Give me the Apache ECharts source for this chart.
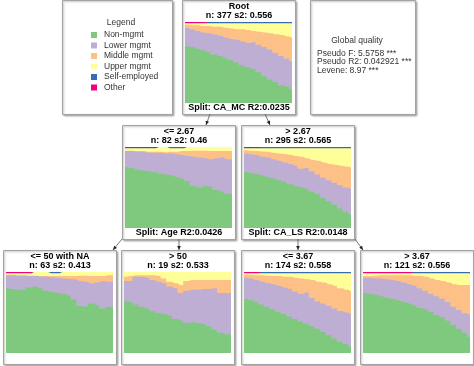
<!DOCTYPE html>
<html><head><meta charset="utf-8">
<script src="https://cdn.jsdelivr.net/npm/echarts@6/dist/echarts.min.js"></script>
<style>html,body{margin:0;padding:0;background:#fff}#c{width:474px;height:366px}</style>
</head><body><div id="c"></div>
<script>
// ---- data ----
const states = ['Non-mgmt','Lower mgmt','Middle mgmt','Upper mgmt','Self-employed','Other'];
const stateColors = ['#7fc97f','#beaed4','#fdc086','#ffff99','#386cb0','#f0027f'];
const timePoints = [1,2,3,4,5,6,7,8,9,10,11,12,13,14,15,16,17,18,19,20];

const nodeTitles = ['Root','<= 2.67','> 2.67','<= 50 with NA','> 50','<= 3.67','> 3.67'];
const nodeN = [377,82,295,63,19,174,121];
const nodeS2 = ['0.556','0.46','0.565','0.413','0.533','0.558','0.556'];
const nodeSplits = ['CA_MC R2:0.0235','Age R2:0.0426','CA_LS R2:0.0148','','','',''];

const qualityLines = ['Pseudo F: 5.5758 ***','Pseudo R2: 0.042921 ***','Levene: 8.97 ***'];

// cumulative upper boundary of each state's band (share, bottom -> top), per node
const nonTop = [
 [0.70,0.69,0.67,0.65,0.63,0.60,0.58,0.56,0.53,0.50,0.47,0.44,0.42,0.38,0.33,0.29,0.26,0.22,0.20,0.17],
 [0.75,0.74,0.72,0.71,0.70,0.69,0.67,0.66,0.65,0.63,0.61,0.58,0.52,0.50,0.52,0.51,0.47,0.45,0.42,0.43],
 [0.69,0.68,0.67,0.65,0.63,0.61,0.59,0.57,0.54,0.52,0.50,0.48,0.45,0.42,0.37,0.33,0.29,0.24,0.20,0.17],
 [0.80,0.79,0.78,0.78,0.81,0.82,0.80,0.77,0.75,0.74,0.73,0.71,0.66,0.58,0.57,0.61,0.59,0.55,0.57,0.57],
 [0.64,0.63,0.60,0.57,0.55,0.52,0.49,0.48,0.46,0.42,0.40,0.37,0.38,0.37,0.36,0.33,0.29,0.25,0.23,0.23],
 [0.67,0.65,0.63,0.60,0.57,0.54,0.51,0.48,0.45,0.42,0.39,0.36,0.33,0.30,0.26,0.22,0.18,0.14,0.11,0.08],
 [0.74,0.73,0.72,0.70,0.68,0.67,0.65,0.63,0.61,0.59,0.56,0.54,0.51,0.47,0.44,0.40,0.35,0.30,0.25,0.20]
];
const lowerTop = [
 [0.93,0.91,0.89,0.87,0.86,0.85,0.83,0.81,0.79,0.78,0.76,0.74,0.75,0.72,0.69,0.66,0.62,0.58,0.55,0.52],
 [0.95,0.95,0.94,0.94,0.93,0.93,0.93,0.92,0.92,0.91,0.90,0.89,0.88,0.87,0.86,0.85,0.86,0.87,0.85,0.85],
 [0.92,0.91,0.90,0.88,0.87,0.85,0.83,0.81,0.79,0.77,0.73,0.74,0.70,0.66,0.62,0.59,0.56,0.53,0.50,0.48],
 [0.96,0.96,0.955,0.955,0.95,0.95,0.945,0.94,0.935,0.93,0.92,0.915,0.91,0.89,0.88,0.86,0.87,0.89,0.88,0.88],
 [0.89,0.89,0.94,0.94,0.93,0.90,0.88,0.86,0.82,0.80,0.74,0.77,0.78,0.78,0.79,0.79,0.80,0.74,0.74,0.74],
 [0.93,0.92,0.90,0.88,0.86,0.85,0.83,0.81,0.79,0.76,0.73,0.75,0.68,0.64,0.61,0.58,0.55,0.52,0.50,0.48],
 [0.93,0.93,0.92,0.92,0.91,0.90,0.89,0.87,0.85,0.83,0.80,0.77,0.73,0.70,0.67,0.63,0.57,0.53,0.49,0.47]
];
const middleTop = [
 [0.97,0.96,0.96,0.95,0.95,0.94,0.94,0.93,0.92,0.91,0.91,0.90,0.89,0.88,0.87,0.86,0.85,0.84,0.82,0.81],
 [0.955,0.955,0.95,0.95,0.94,0.94,0.94,0.935,0.94,0.94,0.95,0.95,0.955,0.955,0.955,0.95,0.95,0.95,0.95,0.95],
 [0.96,0.955,0.95,0.945,0.94,0.93,0.92,0.915,0.905,0.89,0.88,0.86,0.84,0.83,0.81,0.79,0.78,0.77,0.76,0.75],
 [0.965,0.965,0.96,0.96,0.955,0.955,0.95,0.95,0.95,0.95,0.95,0.95,0.95,0.955,0.955,0.95,0.95,0.95,0.96,0.96],
 [0.94,0.95,0.96,0.96,0.96,0.96,0.95,0.92,0.88,0.86,0.84,0.89,0.90,0.90,0.90,0.90,0.90,0.90,0.90,0.90],
 [0.97,0.965,0.96,0.96,0.955,0.95,0.95,0.94,0.94,0.93,0.92,0.91,0.90,0.88,0.87,0.85,0.83,0.80,0.78,0.76],
 [0.95,0.95,0.955,0.96,0.96,0.96,0.96,0.96,0.96,0.955,0.955,0.94,0.92,0.90,0.89,0.87,0.85,0.84,0.84,0.84]
];
const upperTop = [
 [0.985,0.985,0.985,0.985,0.985,0.985,0.985,0.985,0.985,0.985,0.985,0.985,0.985,0.985,0.985,0.985,0.985,0.985,0.985,0.985],
 [0.985,0.985,0.985,0.985,0.985,0.985,1,1,0.985,0.985,0.985,1,1,1,1,1,1,1,1,1],
 [0.985,0.985,0.985,0.985,0.985,0.985,0.985,0.985,0.985,0.985,0.985,0.985,0.985,0.985,0.985,0.985,0.985,0.985,0.985,0.985],
 [0.985,0.985,0.985,0.985,0.985,1,1,1,0.985,0.985,1,1,1,1,1,1,1,1,1,1],
 [1,1,1,1,1,1,1,1,1,1,1,1,1,1,1,1,1,1,1,1],
 [0.985,0.985,0.985,0.985,0.985,0.985,0.985,0.985,0.985,0.985,0.985,0.985,0.985,0.985,0.985,0.985,0.985,0.985,0.985,0.985],
 [0.985,0.985,0.985,0.985,0.985,0.985,0.985,0.985,0.985,0.985,0.985,0.985,0.985,0.985,0.985,0.985,0.985,0.985,0.985,0.985]
];
const selfTop = [
 [0.985,0.985,0.985,0.985,1,1,1,1,1,1,1,1,1,1,1,1,1,1,1,1],
 [0.985,0.985,0.985,0.985,0.985,0.985,1,1,1,1,1,1,1,1,1,1,1,1,1,1],
 [0.985,0.985,0.985,1,1,1,1,1,1,1,1,1,1,1,1,1,1,1,1,1],
 [0.985,0.985,0.985,0.985,0.985,1,1,1,1,1,1,1,1,1,1,1,1,1,1,1],
 [1,1,1,1,1,1,1,1,1,1,1,1,1,1,1,1,1,1,1,1],
 [0.985,0.985,0.985,1,1,1,1,1,1,1,1,1,1,1,1,1,1,1,1,1],
 [0.985,0.985,0.985,0.985,0.985,0.985,0.985,0.985,0.985,1,1,1,1,1,1,1,1,1,1,1]
];
const otherTop = 1; // whole distribution sums to 1

// ---- layout ----
const boxPos = [[182,0],[122,125],[241,125],[3,250],[121,250],[241,250],[360,250]];
const BW = 113, BH = 114;
const links = [[210,114,206,125],[265,114,270,125],[122,239,113,250],[179,239,179,250],[298,239,298,250],[355,239,363,250]];
const FONT = "'Liberation Sans', Arial, sans-serif";

const grids = [], xAxes = [], yAxes = [], series = [], graphic = [];
const boxStyle = {fill:'#fff', stroke:'#a3a3a3', lineWidth:1, shadowBlur:2, shadowOffsetX:1, shadowOffsetY:1, shadowColor:'rgba(0,0,0,0.3)'};

// legend & quality boxes
graphic.push({type:'rect', z:0, shape:{x:62.5,y:0.5,width:110,height:114}, style:boxStyle});
graphic.push({type:'text', z:1, x:121, y:23, style:{text:'Legend', fill:'#333', font:'8.5px '+FONT, textAlign:'center', textVerticalAlign:'middle'}});
states.forEach((s,i)=>{
  const y = 35 + i*10.5;
  graphic.push({type:'rect', z:1, shape:{x:91,y:y-3,width:6,height:6}, style:{fill:stateColors[i]}});
  graphic.push({type:'text', z:1, x:104, y:y, style:{text:s, fill:'#333', font:'8.5px '+FONT, textVerticalAlign:'middle'}});
});
graphic.push({type:'rect', z:0, shape:{x:310.5,y:0.5,width:105,height:114}, style:boxStyle});
graphic.push({type:'text', z:1, x:357, y:41, style:{text:'Global quality', fill:'#333', font:'8.5px '+FONT, textAlign:'center', textVerticalAlign:'middle'}});
qualityLines.forEach((t,i)=>{
  graphic.push({type:'text', z:1, x:317, y:53.3+i*8.7, style:{text:t, fill:'#333', font:'8.5px '+FONT, textVerticalAlign:'middle'}});
});

// connectors
links.forEach(([x1,y1,x2,y2])=>{
  graphic.push({type:'line', z:1, shape:{x1,y1,x2,y2}, style:{stroke:'#555', lineWidth:0.8}});
  const a = Math.atan2(y2-y1,x2-x1), L=4, W=1.8;
  const c = Math.cos(a), s = Math.sin(a);
  graphic.push({type:'polygon', z:1, shape:{points:[[x2,y2],[x2-L*c+W*s,y2-L*s-W*c],[x2-L*c-W*s,y2-L*s+W*c]]}, style:{fill:'#222'}});
});

const tops = [nonTop, lowerTop, middleTop, upperTop, selfTop];
boxPos.forEach(([x0,y0],k)=>{
  graphic.push({type:'rect', z:0, shape:{x:x0+0.5,y:y0+0.5,width:BW,height:BH}, style:boxStyle});
  graphic.push({type:'text', z:1, x:x0+BW/2+0.5, y:y0+6.5, style:{text:nodeTitles[k], fill:'#000', font:'bold 9px '+FONT, textAlign:'center', textVerticalAlign:'middle'}});
  graphic.push({type:'text', z:1, x:x0+BW/2+0.5, y:y0+15.5, style:{text:'n: '+nodeN[k]+' s2: '+nodeS2[k], fill:'#000', font:'bold 9px '+FONT, textAlign:'center', textVerticalAlign:'middle'}});
  if (nodeSplits[k]) {
    graphic.push({type:'text', z:1, x:x0+BW/2+0.5, y:y0+107.5, style:{text:'Split: '+nodeSplits[k], fill:'#000', font:'bold 9px '+FONT, textAlign:'center', textVerticalAlign:'middle'}});
  }
  grids.push({left:x0+3, top:y0+22, width:BW-6, height:81});
  xAxes.push({type:'category', gridIndex:k, data:timePoints, boundaryGap:false, show:false});
  yAxes.push({type:'value', gridIndex:k, min:0, max:1, show:false});
  // each state's area fills up to its cumulative boundary; draw top band first, lower bands over it
  for (let s = states.length-1; s >= 0; s--) {
    const data = s === 5 ? timePoints.map(()=>otherTop) : tops[s][k];
    series.push({
      type:'line', name:states[s], xAxisIndex:k, yAxisIndex:k, step:'middle',
      symbol:'none', showSymbol:false, silent:true, data:data,
      lineStyle:{width:0, opacity:0}, itemStyle:{color:stateColors[s]},
      areaStyle:{color:stateColors[s], opacity:1}
    });
  }
});

const chart = echarts.init(document.getElementById('c'), null, {renderer:'canvas'});
chart.setOption({animation:false, grid:grids, xAxis:xAxes, yAxis:yAxes, series:series, graphic:graphic});
</script></body></html>
